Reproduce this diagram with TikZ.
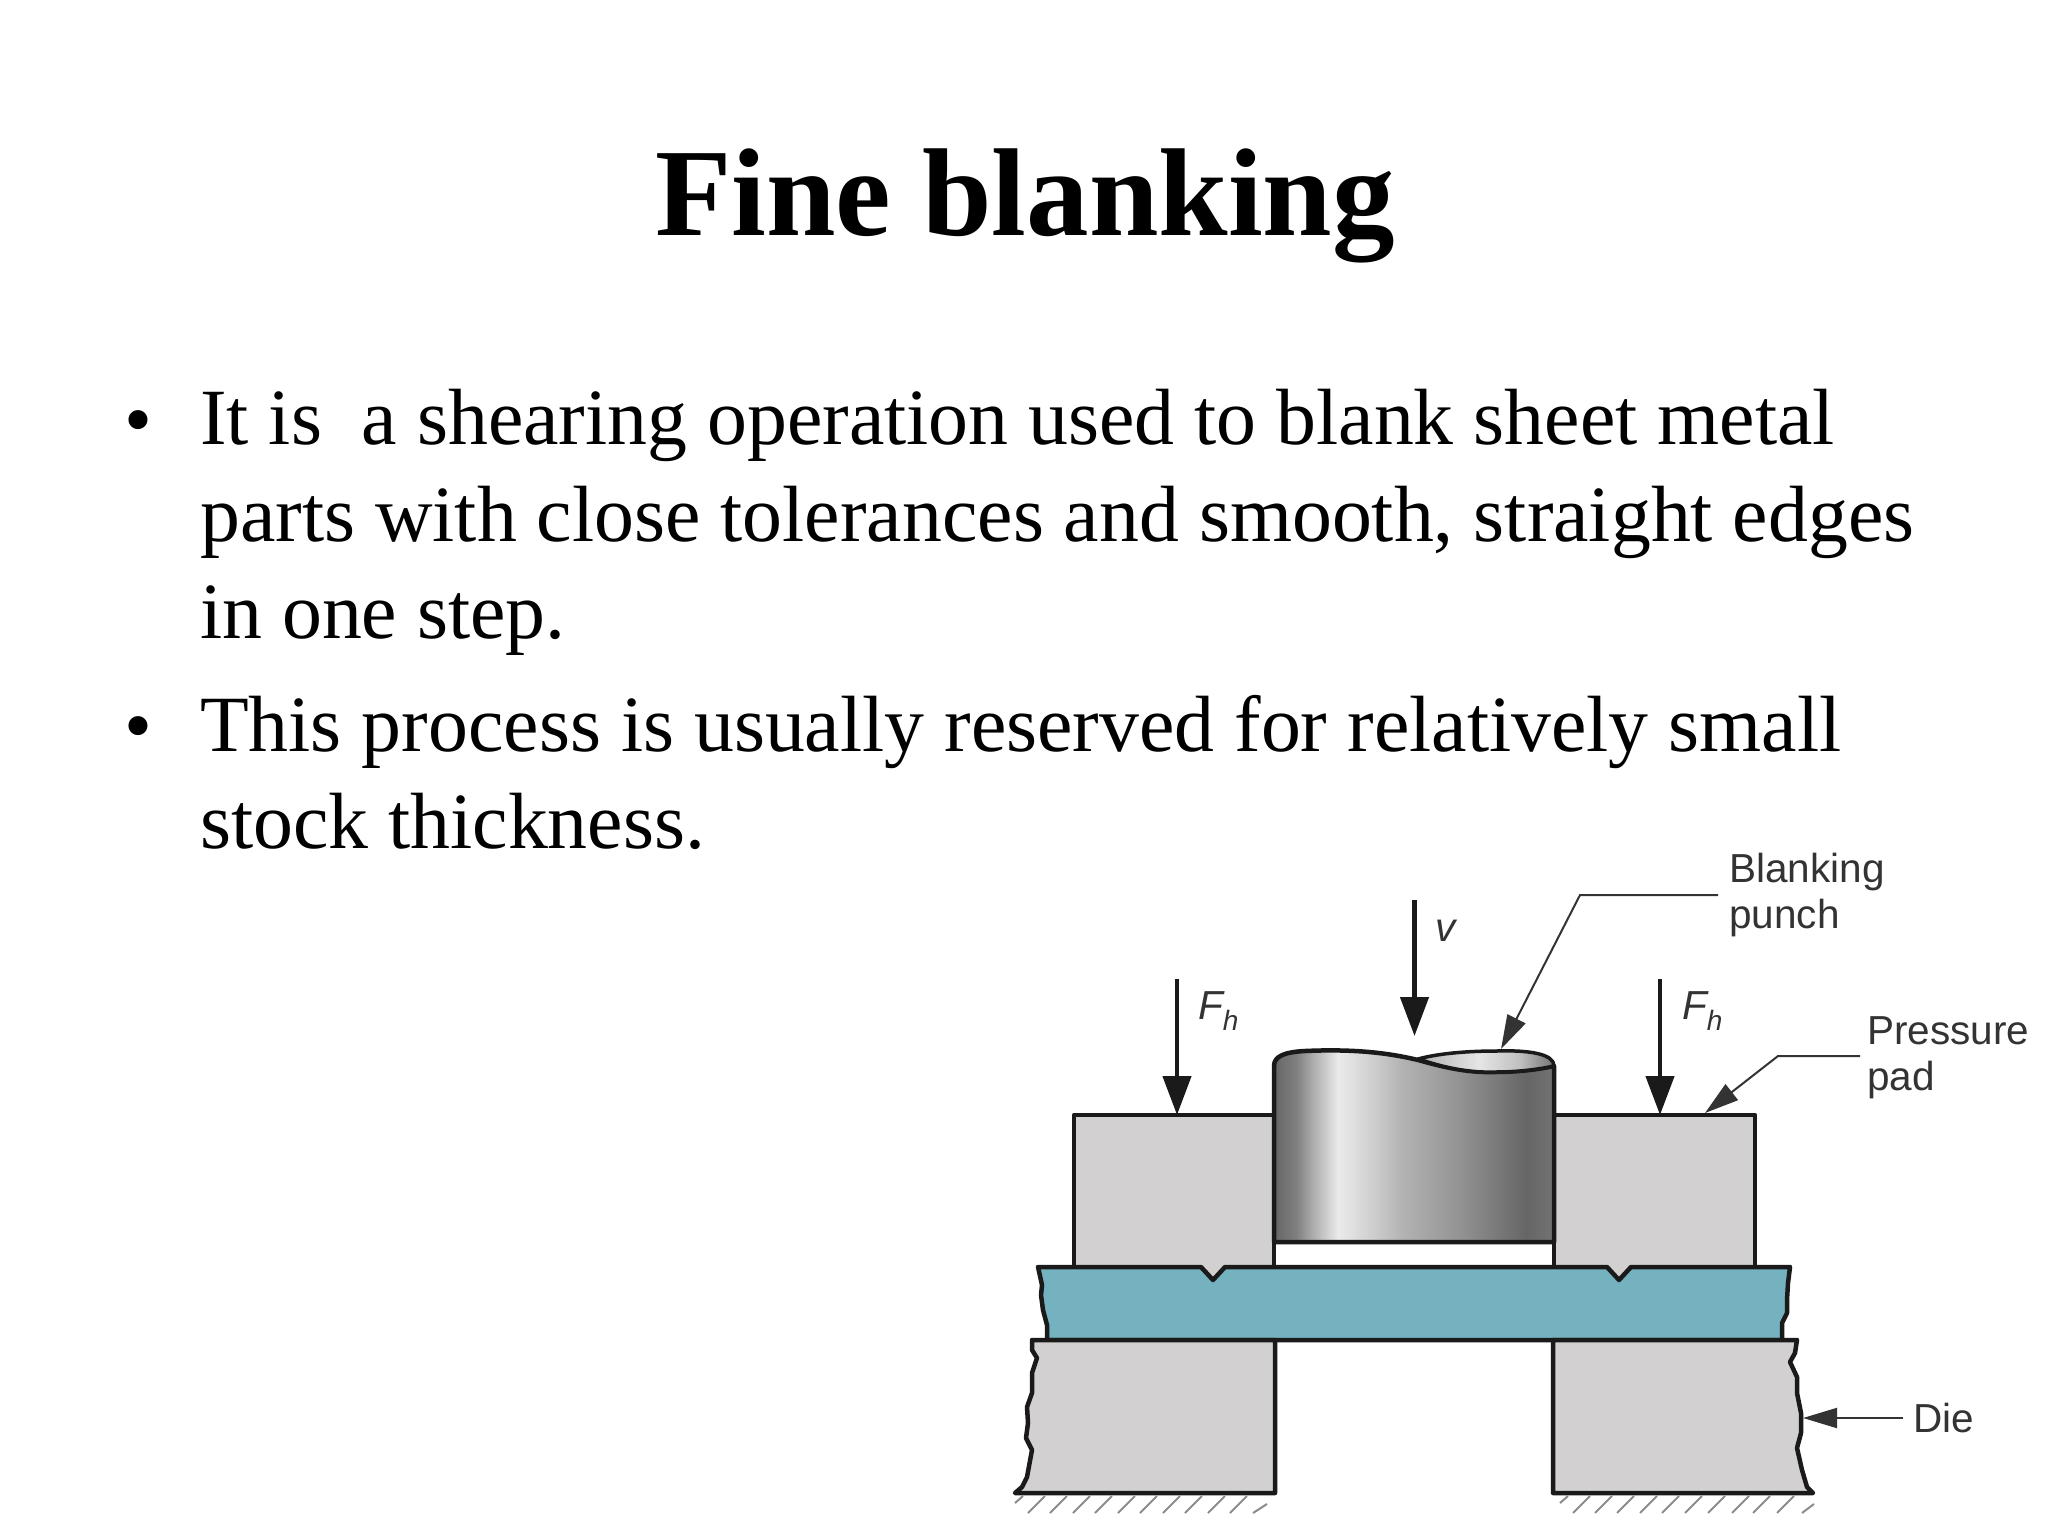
\documentclass[tikz,border=0pt]{standalone}
\usepackage{fontspec}
\setmainfont{Liberation Serif}
\newfontfamily\lblfont{Liberation Sans}
\usetikzlibrary{arrows.meta}
\definecolor{partgray}{HTML}{D2D0D1}
\definecolor{stripblue}{HTML}{73B2BE}
\definecolor{inkline}{HTML}{1A1A1A}
\definecolor{lblink}{HTML}{333333}
\pgfdeclarehorizontalshading{punchshade}{100bp}{
	color(0bp)=(black!60); color(25bp)=(black!60); color(29bp)=(black!50); color(32bp)=(black!32); color(36.5bp)=(black!8);
	color(42bp)=(black!18); color(48bp)=(black!30); color(58.5bp)=(black!43); color(70bp)=(black!60); color(75bp)=(black!55); color(100bp)=(black!55)}
\pgfdeclarehorizontalshading{holeshade}{100bp}{
	color(0bp)=(black!30); color(25bp)=(black!30); color(47.5bp)=(black!10); color(62.5bp)=(black!25); color(75bp)=(black!55); color(100bp)=(black!55)}
\tikzset{
	body/.style={anchor=base west,align=left,inner sep=0pt,font=\fontsize{79.75}{96.7}\selectfont},
	lbl/.style={anchor=west,align=left,inner sep=0pt,text=lblink,font=\lblfont\fontsize{40.5}{45.5}\selectfont},
	part/.style={draw=inkline,line width=4.5pt,line join=round},
	pad/.style={part,fill=partgray,anchor=north west,outer sep=0pt,inner sep=0pt,minimum height=164pt},
	force/.style={draw=inkline,line width=4.5pt,-{Triangle[length=39pt,width=28pt]}},
	lead/.style={draw=lblink,line width=2pt,-{Triangle[length=34pt,width=20pt]}},
	hatch/.style={draw=black!45,line width=2pt}
}
\begin{document}
\begin{tikzpicture}[x=1pt,y=-1pt]
	\useasboundingbox (0,0) rectangle (2048,1536);
	\node (title) [anchor=base,inner sep=0pt,font=\fontsize{125}{130}\selectfont\bfseries] at (1025,235) {Fine blanking};
	\node (dota) [body] at (124,446) {•};
	\node (para) [body] at (200,638) {It is \ a shearing operation used to blank sheet metal\\parts with close tolerances and smooth, straight edges\\in one step.};
	\node (dotb) [body] at (124,752) {•};
	\node (parb) [body] at (200,848) {This process is usually reserved for relatively small\\stock thickness.};

	\node (padl) [pad,minimum width=200pt] at (1074,1115) {};
	\node (padr) [pad,minimum width=201pt] at (1554,1115) {};
	\path[part,shading=punchshade,shade] (1274,1242) -- (1274,1066)
		.. controls (1274,1056) and (1285,1052) .. (1305,1051)
		.. controls (1350,1049) and (1385,1052) .. (1418,1060)
		.. controls (1440,1066) and (1465,1073) .. (1495,1072)
		.. controls (1520,1072) and (1540,1069) .. (1554,1066) -- (1554,1242) -- cycle;
	\path[part,line width=3.5pt,shading=holeshade,shade] (1418,1059)
		.. controls (1440,1053) and (1470,1051) .. (1497,1051)
		.. controls (1530,1050) and (1554,1054) .. (1554,1066)
		.. controls (1540,1069) and (1520,1072) .. (1495,1072)
		.. controls (1465,1073) and (1440,1066) .. (1418,1059) -- cycle;
	\draw[part,fill=stripblue] (1038,1267) -- (1201,1267) -- (1213,1280) -- (1225,1267) -- (1607,1267) -- (1619,1280) -- (1631,1267) -- (1790,1267)
		-- (1788,1283) -- (1787,1300) -- (1787,1313) -- (1782,1323) -- (1782,1340) -- (1047,1340)
		-- (1047,1325) -- (1043,1310) -- (1041,1295) -- (1042,1285) -- cycle;
	\draw[part,fill=partgray] (1032,1340) -- (1275,1340) -- (1275,1493) -- (1015,1493) -- (1022,1487) -- (1027,1477) -- (1032,1450)
		-- (1026,1438) -- (1028,1423) -- (1027,1407) -- (1032,1393) -- (1032,1373) -- (1037,1358) -- (1032,1350) -- cycle;
	\draw[part,fill=partgray] (1553,1340) -- (1797,1340) -- (1795,1353) -- (1790,1362) -- (1797,1377) -- (1797,1393) -- (1801,1413)
		-- (1801,1433) -- (1797,1448) -- (1802,1470) -- (1807,1487) -- (1813,1493) -- (1553,1493) -- cycle;

	\foreach \hx in {1028,1050,1073,1095,1118,1140,1163,1185,1208,1230} {
		\draw[hatch] (\hx,1513) -- ++(17,-17);
	}
	\draw[hatch] (1015,1503) -- ++(8,-7);
	\draw[hatch] (1253,1513) -- ++(14,-9);
	\foreach \hx in {1573,1595,1617,1640,1662,1685,1708,1732,1753,1777} {
		\draw[hatch] (\hx,1513) -- ++(17,-17);
	}
	\draw[hatch] (1560,1503) -- ++(8,-7);
	\draw[hatch] (1802,1513) -- ++(12,-9);

	\coordinate (fhl) at (1177,979);
	\coordinate (fhr) at (1660,979);
	\coordinate (vel) at (1414.5,900);
	\coordinate (vtip) at (1414.5,1036);
	\coordinate (ptip) at (1501,1049);
	\coordinate (ptop) at (1705,1113);
	\coordinate (dtip) at (1803,1418);
	\coordinate (bend) at (1580,895);
	\coordinate (bena) at (1778,1056);
	\draw[force] (fhl) -- (fhl |- padl.north);
	\draw[force] (fhr) -- (fhr |- padr.north);
	\draw[force] (vel) -- (vtip);

	\node (lfl) [lbl] at (1198,1011) {\itshape F\raisebox{-.25em}{\fontsize{28}{28}\selectfont h}};
	\node (lfr) [lbl] at (1682,1011) {\itshape F\raisebox{-.25em}{\fontsize{28}{28}\selectfont h}};
	\node (lv) [lbl] at (1435,931) {\itshape v};
	\node (lbp) [lbl] at (1729,895) {Blanking\\punch};
	\node (lpp) [lbl] at (1867,1058) {Pressure\\pad};
	\node (ldie) [lbl] at (1913,1418) {Die};
	\draw[lead] (lbp.west) ++(-11,0) -- (bend) -- (ptip);
	\draw[lead] (lpp.west) ++(-7,-2) -- (bena) -- (ptop);
	\draw[lead] (ldie.west) ++(-10,0) -- (dtip);
\end{tikzpicture}
\end{document}
